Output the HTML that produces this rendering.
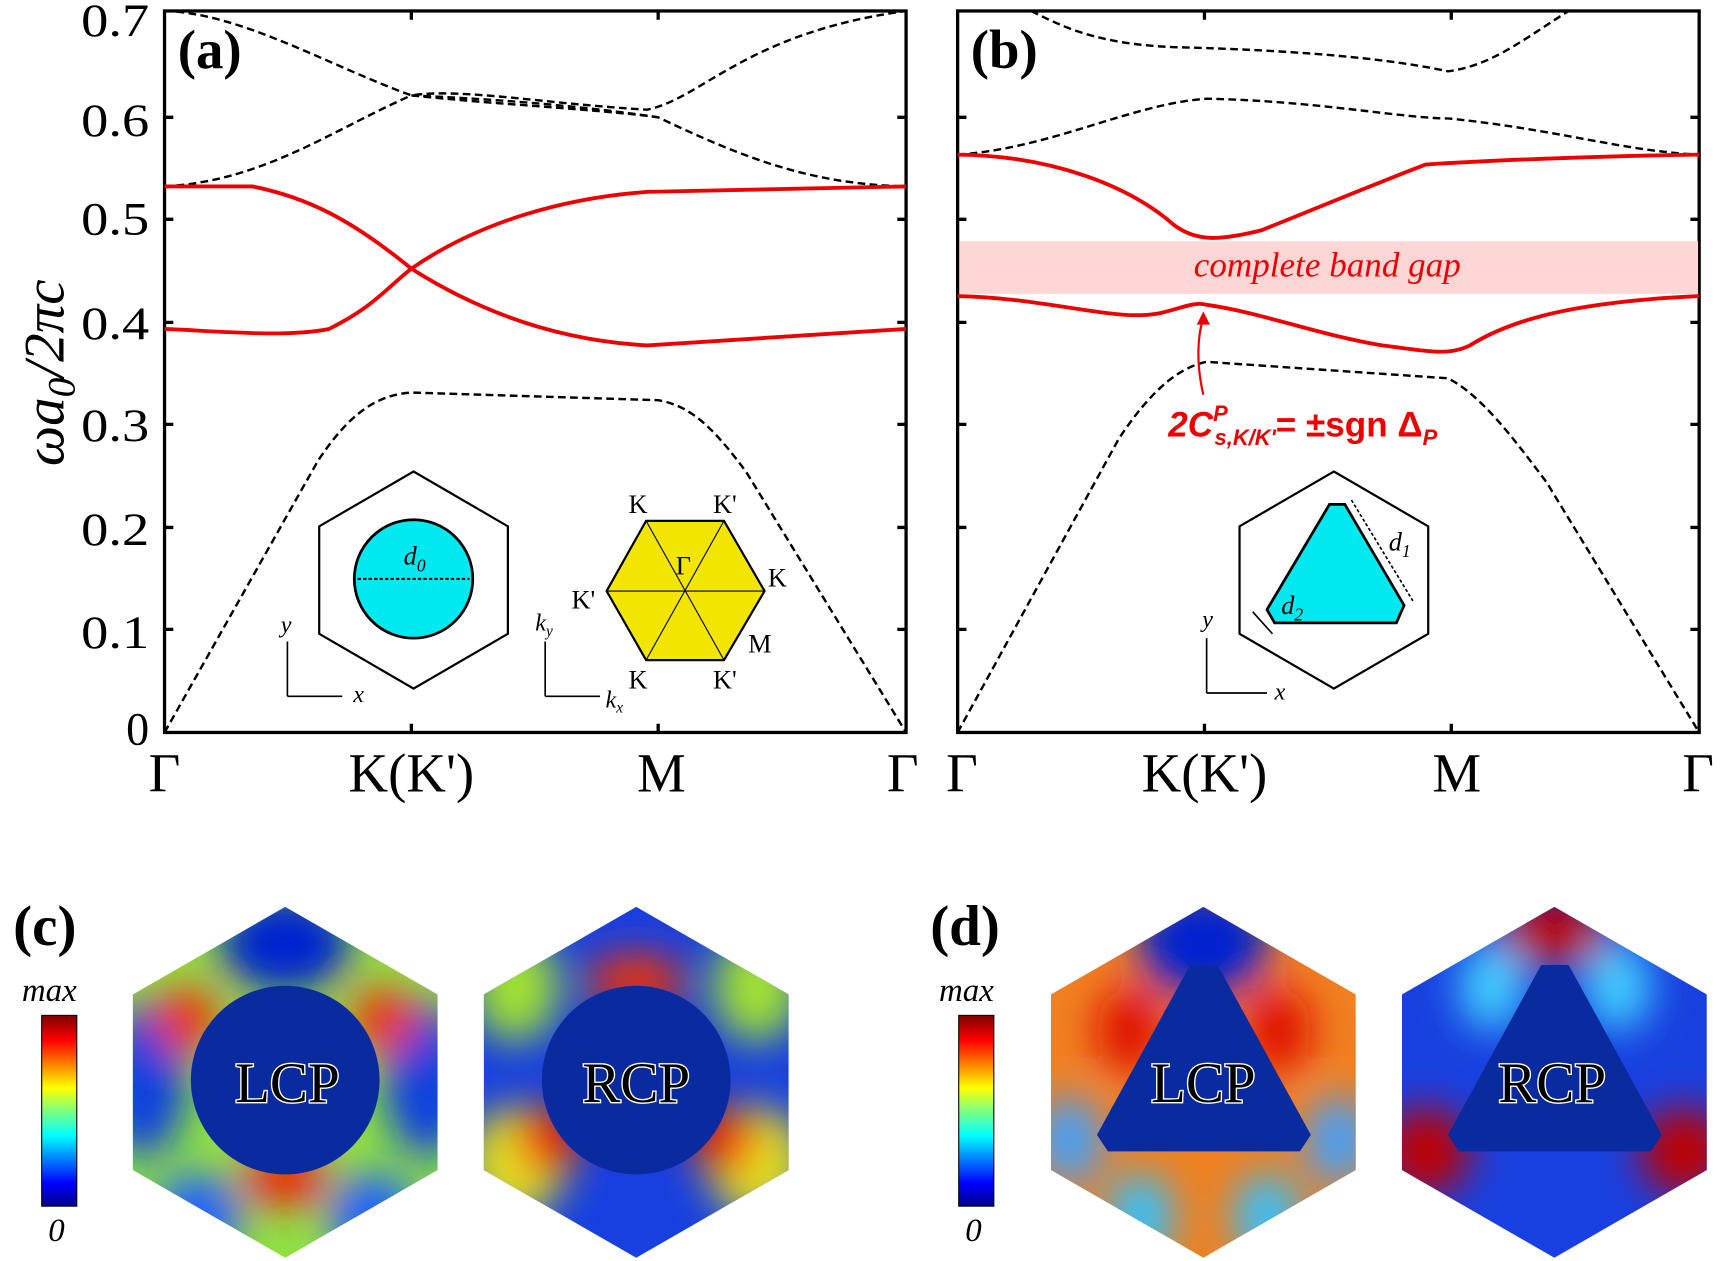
<!DOCTYPE html>
<html><head><meta charset="utf-8"><style>html,body{margin:0;padding:0;background:#fff}svg{display:block}</style></head><body>
<svg width="1720" height="1261" viewBox="0 0 1568 1150" preserveAspectRatio="none" xmlns="http://www.w3.org/2000/svg" font-family="Liberation Serif, serif">
<defs>
<linearGradient id="jet" x1="0" y1="1" x2="0" y2="0">
<stop offset="0" stop-color="#00008f"/><stop offset="0.12" stop-color="#0000ff"/><stop offset="0.37" stop-color="#00ffff"/><stop offset="0.5" stop-color="#7fff7f"/><stop offset="0.62" stop-color="#ffff00"/><stop offset="0.87" stop-color="#ff0000"/><stop offset="1" stop-color="#800000"/></linearGradient>
<filter id="bl" x="-50%" y="-50%" width="200%" height="200%"><feGaussianBlur stdDeviation="18"/></filter>
<clipPath id="h1"><polygon points="260,827 399,907 399,1067 260,1147 121,1067 121,907"/></clipPath>
<clipPath id="h2"><polygon points="580,827 719,907 719,1067 580,1147 441,1067 441,907"/></clipPath>
<clipPath id="h3"><polygon points="1097,827 1236,907 1236,1067 1097,1147 958,1067 958,907"/></clipPath>
<clipPath id="h4"><polygon points="1417,827 1556,907 1556,1067 1417,1147 1278,1067 1278,907"/></clipPath>
</defs>
<g fill="none" stroke="#000" stroke-width="3">
<rect x="150" y="10" width="676" height="658"/>
<rect x="873" y="10" width="676" height="658"/>
</g>
<g stroke="#000" stroke-width="3">
<path d="M150,574h8M150,481h8M150,387h8M150,294h8M150,200h8M150,107h8M818,574h8M818,481h8M818,387h8M818,294h8M818,200h8M818,107h8M375,668v-8M600,668v-8M375,10v8M600,10v8"/>
<path d="M873,574h8M873,481h8M873,387h8M873,294h8M873,200h8M873,107h8M1541,574h8M1541,481h8M1541,387h8M1541,294h8M1541,200h8M1541,107h8M1098,668v-8M1323,668v-8M1098,10v8M1323,10v8"/>
</g>
<g font-size="42" text-anchor="end">
<text x="136" y="33" textLength="62" lengthAdjust="spacingAndGlyphs">0.7</text><text x="136" y="124" textLength="62" lengthAdjust="spacingAndGlyphs">0.6</text><text x="136" y="214" textLength="62" lengthAdjust="spacingAndGlyphs">0.5</text><text x="136" y="309" textLength="62" lengthAdjust="spacingAndGlyphs">0.4</text><text x="136" y="402" textLength="62" lengthAdjust="spacingAndGlyphs">0.3</text><text x="136" y="497" textLength="62" lengthAdjust="spacingAndGlyphs">0.2</text><text x="136" y="591" textLength="62" lengthAdjust="spacingAndGlyphs">0.1</text><text x="136" y="679">0</text>
</g>
<text transform="translate(58,340) rotate(-90)" font-size="52" font-style="italic" text-anchor="middle">ωa<tspan font-size="36" dy="10">0</tspan><tspan dy="-10">/2πc</tspan></text>
<g font-size="50" text-anchor="middle">
<text x="150" y="722">Γ</text><text x="375" y="722">K(K')</text><text x="603" y="722">M</text><text x="823" y="722">Γ</text>
<text x="877" y="722">Γ</text><text x="1098" y="722">K(K')</text><text x="1328" y="722">M</text><text x="1548" y="722">Γ</text>
</g>
<text x="162" y="62" font-size="50" font-weight="bold">(a)</text>
<text x="885" y="62" font-size="50" font-weight="bold">(b)</text>
<rect x="875" y="220" width="673" height="48" fill="#ffd6d6"/>
<text x="1210" y="252" font-size="32" font-style="italic" fill="#e00" text-anchor="middle">complete band gap</text>
<g fill="none" stroke="#000" stroke-width="2.2" stroke-dasharray="7,4">
<path d="M150,668 L290,420 C320,375 345,360 375,358 L600,365 C630,370 650,390 680,430 L826,668"/>
<path d="M150,170 C240,165 300,120 375,87 C450,95 550,100 600,107 C680,145 740,168 826,170"/>
<path d="M150,10 C220,12 300,60 375,87 C420,80 500,95 590,100 C640,90 680,30 826,10"/>
<path d="M375,87 C440,90 520,95 600,107"/>
<path d="M873,668 L1020,400 C1050,355 1075,335 1100,330 L1320,345 C1350,360 1380,400 1410,440 L1549,668"/>
<path d="M873,141 C960,135 1030,95 1100,90 C1200,92 1280,108 1320,108 C1420,118 1480,138 1549,141"/>
<path d="M940,10 C970,25 1000,40 1070,43 C1150,45 1250,50 1320,65 C1360,60 1390,35 1430,10"/>
</g>
<g fill="none" stroke="#e00" stroke-width="3.5">
<path d="M150,170 L230,170 C280,180 320,200 375,245 C430,280 500,310 590,315 L826,300"/>
<path d="M150,300 C200,302 260,308 300,300 C340,280 350,265 375,245 C440,200 520,180 590,175 L826,170"/>
<path d="M873,141 C960,142 1030,170 1070,205 C1090,220 1110,220 1150,210 C1200,190 1260,165 1300,150 C1380,145 1480,142 1549,141"/>
<path d="M873,270 C960,272 1020,295 1060,285 C1080,280 1090,275 1100,278 C1150,285 1200,305 1260,315 C1300,320 1320,325 1340,315 C1380,290 1440,275 1549,270"/>
</g>
<path d="M1097,360 C1090,330 1092,305 1097,290" fill="none" stroke="#e00" stroke-width="2"/>
<path d="M1097,284 l-6,12 l12,0z" fill="#e00"/>
<text x="1065" y="398" font-family="Liberation Sans, sans-serif" font-size="32" font-weight="bold" font-style="italic" fill="#e00">2C<tspan font-size="20" dy="-14">P</tspan><tspan font-size="20" dy="22" dx="-12">s,K/K'</tspan><tspan dy="-8" font-style="normal">= ±sgn Δ</tspan><tspan font-size="20" dy="8">P</tspan></text>
<!-- inset a -->
<polygon points="377,430 463,480 463,578 377,628 291,578 291,480" fill="#fff" stroke="#000" stroke-width="2"/>
<circle cx="377" cy="528" r="54" fill="#00e8f0" stroke="#000" stroke-width="2.5"/>
<line x1="326" y1="528" x2="428" y2="528" stroke="#000" stroke-width="2" stroke-dasharray="3,2"/>
<text x="368" y="515" font-size="24" font-style="italic">d<tspan font-size="16" dy="6">0</tspan></text>
<path d="M262,635 V585 M262,635 H312" stroke="#000" stroke-width="1.5" fill="none"/>
<text x="256" y="577" font-size="22" font-style="italic">y</text><text x="322" y="640" font-size="22" font-style="italic">x</text>
<polygon points="589,475 660,475 697,539 660,602 589,602 553,539" fill="#f2e600" stroke="#000" stroke-width="2"/>
<path d="M589,475 L660,602 M660,475 L589,602 M553,539 H697" stroke="#000" stroke-width="1"/>
<g font-size="24"><text x="573" y="468">K</text><text x="650" y="468">K'</text><text x="700" y="535">K</text><text x="521" y="555">K'</text><text x="682" y="595">M</text><text x="573" y="628">K</text><text x="650" y="628">K'</text><text x="616" y="524">Γ</text></g>
<path d="M497,635 V585 M497,635 H547" stroke="#000" stroke-width="1.5" fill="none"/>
<text x="488" y="575" font-size="22" font-style="italic">k<tspan font-size="14" dy="5">y</tspan></text><text x="552" y="645" font-size="22" font-style="italic">k<tspan font-size="14" dy="5">x</tspan></text>
<!-- inset b -->
<polygon points="1216,430 1302,480 1302,578 1216,628 1130,578 1130,480" fill="#fff" stroke="#000" stroke-width="2"/>
<polygon points="1212,460 1226,460 1280,552 1273,568 1162,568 1155,556" fill="#00e8f0" stroke="#000" stroke-width="2.5"/>
<line x1="1232" y1="456" x2="1288" y2="548" stroke="#000" stroke-width="1.5" stroke-dasharray="3,2"/>
<text x="1266" y="502" font-size="24" font-style="italic">d<tspan font-size="16" dy="6">1</tspan></text>
<text x="1168" y="560" font-size="24" font-style="italic">d<tspan font-size="16" dy="6">2</tspan></text>
<path d="M1142,558 l18,20" stroke="#000" stroke-width="1.5"/>
<path d="M1100,632 V582 M1100,632 H1155" stroke="#000" stroke-width="1.5" fill="none"/>
<text x="1096" y="572" font-size="22" font-style="italic">y</text><text x="1162" y="638" font-size="22" font-style="italic">x</text>
<!-- bottom -->
<text x="12" y="862" font-size="52" font-weight="bold">(c)</text>
<text x="848" y="862" font-size="52" font-weight="bold">(d)</text>
<text x="20" y="913" font-size="30" font-style="italic">max</text><text x="856" y="913" font-size="30" font-style="italic">max</text>
<rect x="38" y="926" width="32" height="174" fill="url(#jet)" stroke="#000"/>
<rect x="874" y="926" width="32" height="174" fill="url(#jet)" stroke="#000"/>
<text x="44" y="1132" font-size="30" font-style="italic">0</text><text x="880" y="1132" font-size="30" font-style="italic">0</text>
<g clip-path="url(#h1)"><rect x="100" y="820" width="320" height="340" fill="#90e040"/>
<g filter="url(#bl)"><ellipse cx="260" cy="860" rx="60" ry="45" fill="#0020d0"/><ellipse cx="130" cy="985" rx="40" ry="70" fill="#1040e0"/><ellipse cx="390" cy="985" rx="40" ry="70" fill="#1040e0"/><ellipse cx="180" cy="1110" rx="40" ry="40" fill="#2060ff"/><ellipse cx="340" cy="1110" rx="40" ry="40" fill="#2060ff"/><ellipse cx="170" cy="930" rx="30" ry="30" fill="#f03000"/><ellipse cx="350" cy="930" rx="30" ry="30" fill="#f03000"/><ellipse cx="260" cy="1075" rx="40" ry="25" fill="#f02000"/></g>
<circle cx="260" cy="985" r="86" fill="#0a2aa0"/></g>
<g clip-path="url(#h2)"><rect x="420" y="820" width="320" height="340" fill="#1840e0"/>
<g filter="url(#bl)"><ellipse cx="470" cy="900" rx="40" ry="50" fill="#a0e030"/><ellipse cx="690" cy="900" rx="40" ry="50" fill="#a0e030"/><ellipse cx="470" cy="1060" rx="45" ry="50" fill="#e0e020"/><ellipse cx="690" cy="1060" rx="45" ry="50" fill="#e0e020"/><ellipse cx="580" cy="895" rx="45" ry="25" fill="#f03000"/><ellipse cx="500" cy="1040" rx="30" ry="30" fill="#f02000"/><ellipse cx="660" cy="1040" rx="30" ry="30" fill="#f02000"/></g>
<circle cx="580" cy="985" r="86" fill="#0a2aa0"/></g>
<g clip-path="url(#h3)"><rect x="940" y="820" width="320" height="340" fill="#f08020"/>
<g filter="url(#bl)"><ellipse cx="1097" cy="860" rx="60" ry="50" fill="#0020d0"/><ellipse cx="975" cy="1040" rx="30" ry="40" fill="#40a0ff"/><ellipse cx="1220" cy="1040" rx="30" ry="40" fill="#40a0ff"/><ellipse cx="1040" cy="1110" rx="30" ry="40" fill="#30c0ff"/><ellipse cx="1155" cy="1110" rx="30" ry="40" fill="#30c0ff"/><ellipse cx="1030" cy="940" rx="30" ry="40" fill="#e01000"/><ellipse cx="1165" cy="940" rx="30" ry="40" fill="#e01000"/></g>
<polygon points="1085,880 1110,880 1195,1035 1185,1050 1010,1050 1000,1035" fill="#0a2aa0"/></g>
<g clip-path="url(#h4)"><rect x="1260" y="820" width="320" height="340" fill="#1840e0"/>
<g filter="url(#bl)"><ellipse cx="1417" cy="850" rx="50" ry="30" fill="#c00000"/><ellipse cx="1300" cy="1050" rx="40" ry="40" fill="#c00000"/><ellipse cx="1535" cy="1050" rx="40" ry="40" fill="#c00000"/><ellipse cx="1360" cy="900" rx="30" ry="40" fill="#40d0ff"/><ellipse cx="1475" cy="900" rx="30" ry="40" fill="#40d0ff"/></g>
<polygon points="1405,880 1430,880 1515,1035 1505,1050 1330,1050 1320,1035" fill="#0a2aa0"/></g>
<g font-size="52" text-anchor="middle" fill="#000" stroke="#fff" stroke-width="2.5" paint-order="stroke">
<text x="262" y="1005">LCP</text><text x="580" y="1005">RCP</text><text x="1097" y="1005">LCP</text><text x="1415" y="1005">RCP</text></g>
</svg>
</body></html>
